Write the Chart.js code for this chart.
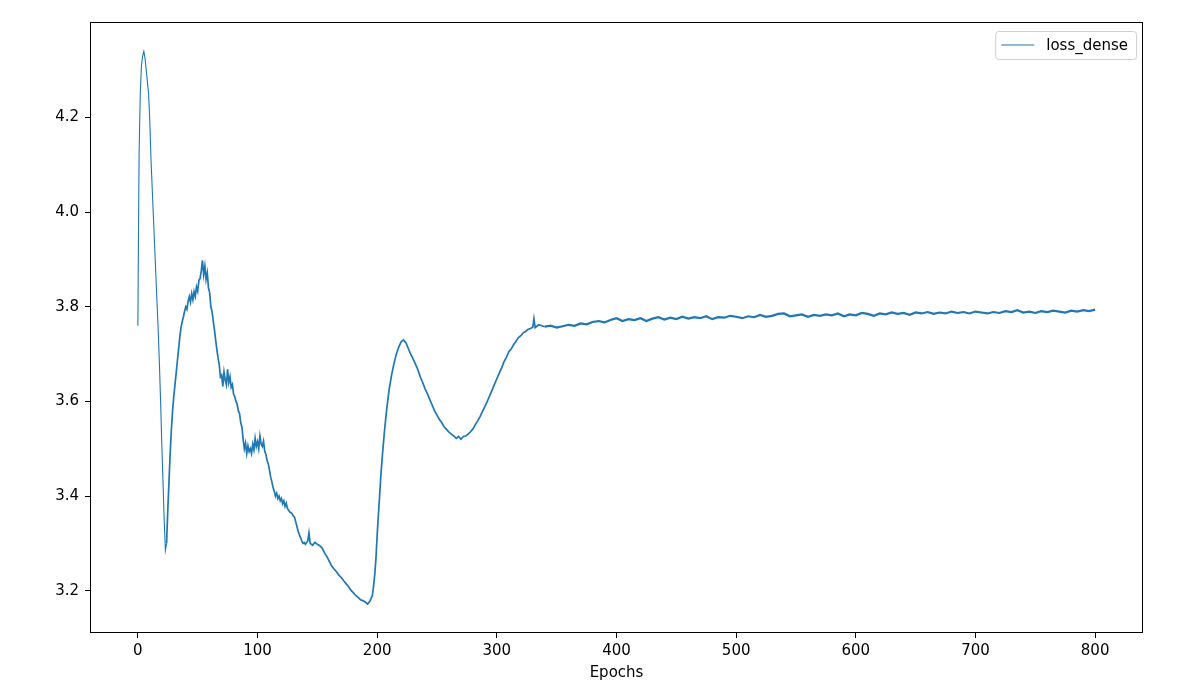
<!DOCTYPE html>
<html>
<head>
<meta charset="utf-8">
<script src="https://cdn.jsdelivr.net/npm/chart.js@4"></script>
<style>
  html, body { margin: 0; padding: 0; background: #fff; }
  #wrap { width: 1200px; height: 700px; }
</style>
</head>
<body>
<div id="wrap"><canvas id="lossChart"></canvas></div>
<script>
// values
const epochs = [
  0, 1, 2, 3, 4, 5, 6, 7, 8, 9,
  10, 11, 12, 13, 14, 15, 16, 17, 18, 19,
  20, 21, 22, 23, 24, 25, 26, 27, 28, 29,
  30, 31, 32, 33, 34, 35, 36, 37, 38, 39,
  40, 41, 42, 43, 44, 45, 46, 47, 48, 49,
  50, 51, 52, 53, 54, 55, 56, 57, 58, 59,
  60, 61, 62, 63, 64, 65, 66, 67, 68, 69,
  70, 71, 72, 73, 74, 75, 76, 77, 78, 79,
  80, 81, 82, 83, 84, 85, 86, 87, 88, 89,
  90, 91, 92, 93, 94, 95, 96, 97, 98, 99,
  100, 101, 102, 103, 104, 105, 106, 107, 108, 109,
  110, 111, 112, 113, 114, 115, 116, 117, 118, 119,
  120, 121, 122, 123, 124, 125, 126, 127, 128, 129,
  130, 131, 132, 133, 134, 135, 136, 137, 138, 139, 140,
  142, 143, 144, 146, 148, 150, 152, 154, 156, 158,
  160, 162, 164, 166, 168, 170, 172, 174, 176, 178,
  180, 182, 184, 186, 188, 190, 192, 194, 196, 197,
  198, 199, 200, 201, 202, 203, 204, 205, 206, 207,
  208, 209, 210, 212, 214, 216, 218, 220, 222, 224,
  226, 228, 230, 232, 234, 236, 238, 240, 242, 244,
  246, 248, 250, 252, 254, 256, 258, 260, 262, 264,
  266, 268, 270, 272, 274, 276, 278, 280, 282, 284,
  286, 288, 290, 292, 294, 296, 298, 300, 302, 304,
  306, 308, 310, 312, 314, 316, 318, 320, 322, 324,
  326, 328, 330, 331, 332, 334,
  335, 340, 345, 350, 355, 360, 365, 370, 375, 380,
  385, 390, 395, 400, 405, 410, 415, 420, 425, 430,
  435, 440, 445, 450, 455, 460, 465, 470, 475, 480,
  485, 490, 495, 500, 505, 510, 515, 520, 525, 530,
  535, 540, 545, 550, 555, 560, 565, 570, 575, 580,
  585, 590, 595, 600, 605, 610, 615, 620, 625, 630,
  635, 640, 645, 650, 655, 660, 665, 670, 675, 680,
  685, 690, 695, 700, 705, 710, 715, 720, 725, 730,
  735, 740, 745, 750, 755, 760, 765, 770, 775, 780,
  785, 790, 795, 800
];

const lossDense = [
  3.76, 4.12, 4.25, 4.31, 4.33, 4.34, 4.325, 4.30, 4.275, 4.25,
  4.19, 4.11, 4.05, 3.99, 3.93, 3.87, 3.81, 3.75, 3.68, 3.60,
  3.51, 3.43, 3.35, 3.285, 3.30, 3.37, 3.43, 3.49, 3.54, 3.58,
  3.61, 3.635, 3.66, 3.685, 3.71, 3.735, 3.755, 3.768, 3.778, 3.79,
  3.80, 3.795, 3.812, 3.822, 3.81, 3.828, 3.815, 3.832, 3.822, 3.842,
  3.833, 3.856, 3.86, 3.876, 3.898, 3.868, 3.886, 3.858, 3.872, 3.84,
  3.83, 3.80, 3.79, 3.77, 3.752, 3.73, 3.71, 3.692, 3.678, 3.652,
  3.656, 3.632, 3.662, 3.645, 3.635, 3.668, 3.64, 3.652, 3.63, 3.636,
  3.615, 3.61, 3.60, 3.594, 3.58, 3.574, 3.555, 3.545, 3.52, 3.50,
  3.512, 3.49, 3.506, 3.494, 3.50, 3.49, 3.51, 3.498, 3.522, 3.505,
  3.515, 3.50, 3.527, 3.51, 3.505, 3.516, 3.495, 3.488, 3.475, 3.468,
  3.455, 3.44, 3.43, 3.418, 3.41, 3.40, 3.406, 3.395, 3.40, 3.39,
  3.395, 3.384, 3.39, 3.378, 3.385, 3.374, 3.37, 3.366, 3.365, 3.362,
  3.358, 3.355, 3.345, 3.335, 3.325, 3.318, 3.312, 3.305, 3.30, 3.302, 3.298,
  3.305, 3.322, 3.30, 3.296, 3.302, 3.298, 3.295, 3.29, 3.28, 3.272,
  3.262, 3.252, 3.246, 3.24, 3.233, 3.228, 3.221, 3.215, 3.209, 3.201,
  3.196, 3.19, 3.186, 3.181, 3.179, 3.176, 3.172, 3.178, 3.19, 3.21,
  3.235, 3.27, 3.318, 3.36, 3.40, 3.44, 3.475, 3.505, 3.535, 3.56,
  3.585, 3.605, 3.625, 3.655, 3.68, 3.70, 3.715, 3.726, 3.73, 3.724,
  3.712, 3.70, 3.69, 3.679, 3.667, 3.652, 3.64, 3.627, 3.616, 3.604,
  3.592, 3.58, 3.571, 3.562, 3.555, 3.546, 3.541, 3.535, 3.531, 3.527,
  3.522, 3.526, 3.52, 3.526, 3.527, 3.531, 3.536, 3.542, 3.551, 3.559,
  3.568, 3.579, 3.589, 3.60, 3.612, 3.624, 3.636, 3.648, 3.66, 3.671,
  3.684, 3.693, 3.705, 3.711, 3.72, 3.727, 3.735, 3.739, 3.745, 3.748,
  3.752, 3.754, 3.757, 3.775, 3.756, 3.76,
  3.762, 3.758, 3.760, 3.756, 3.759, 3.762, 3.760, 3.765, 3.763, 3.768,
  3.770, 3.767, 3.772, 3.776, 3.770, 3.774, 3.772, 3.776, 3.770, 3.775,
  3.778, 3.773, 3.777, 3.774, 3.779, 3.775, 3.778, 3.776, 3.780, 3.774,
  3.778, 3.777, 3.781, 3.779, 3.776, 3.780, 3.778, 3.783, 3.779, 3.781,
  3.785, 3.786, 3.780, 3.782, 3.784, 3.779, 3.783, 3.781, 3.784, 3.782,
  3.786, 3.780, 3.784, 3.782, 3.787, 3.785, 3.781, 3.786, 3.784, 3.788,
  3.785, 3.787, 3.783, 3.788, 3.786, 3.789, 3.785, 3.788, 3.786, 3.790,
  3.787, 3.789, 3.786, 3.790, 3.788, 3.786, 3.789, 3.787, 3.791, 3.789,
  3.793, 3.788, 3.790, 3.787, 3.791, 3.789, 3.792, 3.790, 3.788, 3.792,
  3.790, 3.793, 3.791, 3.794
];

const xTicks = [0, 100, 200, 300, 400, 500, 600, 700, 800];
const yTicks = [3.2, 3.4, 3.6, 3.8, 4.0, 4.2];
const seriesLabel = "loss_dense";
const xTitle = "Epochs";

const lineColor = "#1f77b4";
const tickFont = { family: "DejaVu Sans", size: 15 };

// black box round the plot area plus the legend in its upper right corner
const frameAndLegend = {
  id: "frameAndLegend",
  afterDraw(chart) {
    const { ctx, chartArea: a } = chart;
    ctx.save();
    ctx.strokeStyle = "#000";
    ctx.lineWidth = 1;
    ctx.strokeRect(a.left + 0.5, a.top + 0.5, a.right - a.left - 1, a.bottom - a.top - 1);

    const ds = chart.data.datasets[0];
    ctx.font = "15px 'DejaVu Sans'";
    const tw = ctx.measureText(ds.label).width;
    const w = 6 + 33 + 12 + tw + 8;
    const h = 28;
    const x = a.right - 7 - w;
    const y = a.top + 9;
    ctx.fillStyle = "rgba(255,255,255,0.8)";
    ctx.strokeStyle = "#d0d0d0";
    ctx.beginPath();
    ctx.roundRect(x + 0.5, y + 0.5, w, h, 3);
    ctx.fill();
    ctx.stroke();

    ctx.strokeStyle = ds.borderColor;
    ctx.lineWidth = 1.1;
    ctx.beginPath();
    ctx.moveTo(x + 6, y + h / 2);
    ctx.lineTo(x + 39, y + h / 2);
    ctx.stroke();

    ctx.fillStyle = "#000";
    ctx.textBaseline = "middle";
    ctx.fillText(ds.label, x + 51, y + h / 2 + 1);
    ctx.restore();
  },
};

new Chart(document.getElementById("lossChart").getContext("2d"), {
  type: "line",
  data: {
    datasets: [
      {
        label: seriesLabel,
        data: epochs.map((e, i) => ({ x: e, y: lossDense[i] })),
        borderColor: lineColor,
        backgroundColor: lineColor,
        borderWidth: 1.1,
        pointRadius: 0,
        tension: 0,
        fill: false,
        // the noisy stretches read as a thicker band in the original
        segment: {
          borderWidth: (c) => (c.p0.parsed.x < 24 ? 1.1 : c.p0.parsed.x < 340 ? 1.7 : 2.2),
        },
      },
    ],
  },
  options: {
    responsive: true,
    maintainAspectRatio: false,
    animation: false,
    layout: { padding: { top: 22, right: 57, left: 0, bottom: 0 } },
    plugins: {
      legend: { display: false },
      tooltip: { enabled: false },
    },
    scales: {
      x: {
        type: "linear",
        min: -40,
        max: 840,
        afterBuildTicks: (s) => { s.ticks = xTicks.map((v) => ({ value: v })); },
        afterFit: (s) => { s.height = 67; },
        grid: { drawOnChartArea: false, drawTicks: true, tickLength: 5, tickColor: "#000" },
        border: { display: false },
        ticks: { color: "#000", padding: 4, maxRotation: 0, font: tickFont, callback: (v) => String(v) },
        title: {
          display: true,
          text: xTitle,
          color: "#000",
          font: tickFont,
          padding: { top: 0, bottom: 18 },
        },
      },
      y: {
        type: "linear",
        min: 3.1106,
        max: 4.402,
        afterBuildTicks: (s) => { s.ticks = yTicks.map((v) => ({ value: v })); },
        afterFit: (s) => { s.width = 90; },
        grid: { drawOnChartArea: false, drawTicks: true, tickLength: 5, tickColor: "#000" },
        border: { display: false },
        ticks: { color: "#000", padding: 6, font: tickFont, callback: (v) => Number(v).toFixed(1) },
      },
    },
  },
  plugins: [frameAndLegend],
});
</script>
</body>
</html>
